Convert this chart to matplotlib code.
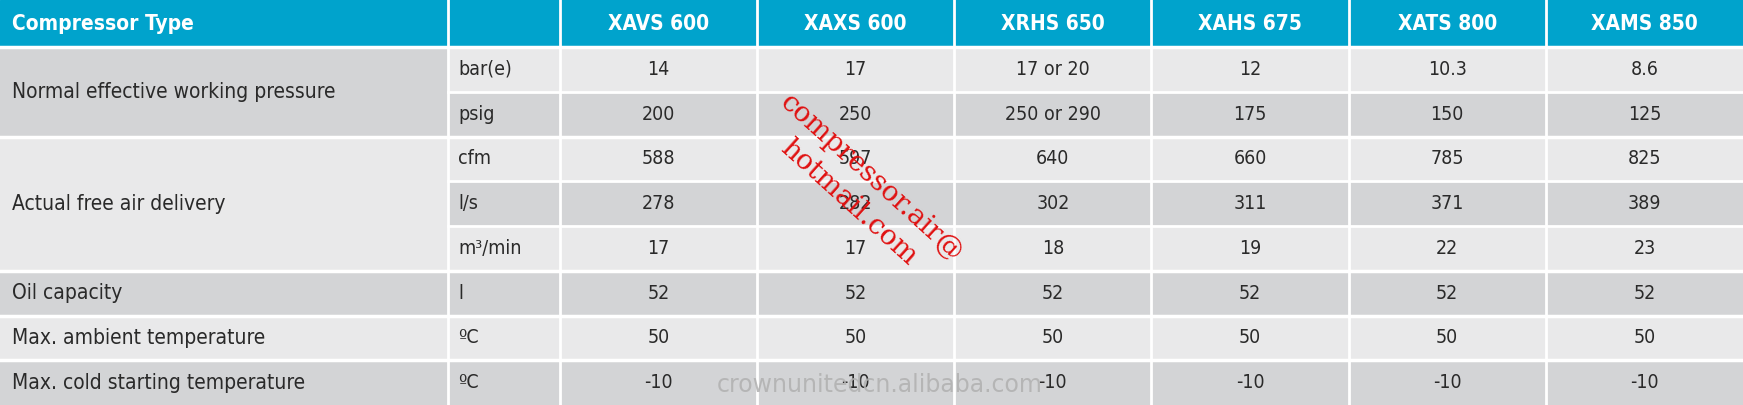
import matplotlib
matplotlib.use("Agg")
import matplotlib.pyplot as plt
from matplotlib.patches import Rectangle

models = ["XAVS 600", "XAXS 600", "XRHS 650", "XAHS 675", "XATS 800", "XAMS 850"]
groups = [("Normal effective working pressure", 2), ("Actual free air delivery", 3),
          ("Oil capacity", 1), ("Max. ambient temperature", 1), ("Max. cold starting temperature", 1)]
units = ["bar(e)", "psig", "cfm", "l/s", "m³/min", "l", "ºC", "ºC"]
row_bar = ["14", "17", "17 or 20", "12", "10.3", "8.6"]
row_psig = ["200", "250", "250 or 290", "175", "150", "125"]
row_cfm = ["588", "597", "640", "660", "785", "825"]
row_ls = ["278", "282", "302", "311", "371", "389"]
row_m3 = ["17", "17", "18", "19", "22", "23"]
row_oil = ["52", "52", "52", "52", "52", "52"]
row_amb = ["50", "50", "50", "50", "50", "50"]
row_cold = ["-10", "-10", "-10", "-10", "-10", "-10"]
rows = [row_bar, row_psig, row_cfm, row_ls, row_m3, row_oil, row_amb, row_cold]

W, H = 1743, 405
fig = plt.figure(figsize=(W/100, H/100), dpi=100)
ax = fig.add_axes([0, 0, 1, 1])
ax.set_xlim(0, W); ax.set_ylim(H, 0); ax.axis("off")

blue = "#00a3cc"; light = "#e9e9ea"; dark = "#d3d4d6"
fam = "DejaVu Sans"; st = "condensed"
x_lab, x_unit, x_data = 0, 448, 560
colw = (W - x_data) / 6
hh = 47
rh = (H - hh) / 8

# header
ax.add_patch(Rectangle((0, 0), W, hh, color=blue))
ax.text(12, hh/2, "Compressor Type", color="white", fontsize=15, fontweight="bold",
        family=fam, stretch=st, va="center")
for j, m in enumerate(models):
    ax.text(x_data + colw*(j+0.5), hh/2, m, color="white", fontsize=15, fontweight="bold",
            family=fam, stretch=st, va="center", ha="center")

# rows
for i, (u, vals) in enumerate(zip(units, rows)):
    y0 = hh + i*rh
    c = light if i % 2 == 0 else dark
    ax.add_patch(Rectangle((x_unit, y0), W - x_unit, rh, color=c))
    ax.text(x_unit + 10, y0 + rh/2, u, fontsize=14, color="#2a2a2a", family=fam, stretch=st, va="center")
    for j, v in enumerate(vals):
        ax.text(x_data + colw*(j+0.5), y0 + rh/2, v, fontsize=14, color="#2a2a2a",
                family=fam, stretch=st, va="center", ha="center")

# label groups
r = 0
for g, (name, n) in enumerate(groups):
    y0 = hh + r*rh
    c = dark if g % 2 == 0 else light
    ax.add_patch(Rectangle((0, y0), x_unit, n*rh, color=c))
    ax.text(12, y0 + n*rh/2, name, fontsize=15, color="#2a2a2a", family=fam, stretch=st, va="center")
    ax.plot([0, W], [y0, y0], color="white", lw=2.5)
    r += n

# grid lines
for i in range(8):
    y0 = hh + i*rh
    ax.plot([x_unit, W], [y0, y0], color="white", lw=2)
for x in [x_unit, x_data] + [x_data + colw*k for k in range(1, 6)]:
    ax.plot([x, x], [0, H], color="white", lw=2)

# watermarks
ax.text(860, 190, "compressor.air@\nhotmail.com", color="#e01010", fontsize=20, family="DejaVu Serif",
        rotation=-42, ha="center", va="center", linespacing=1.3)
ax.text(880, 385, "crownunitedcn.alibaba.com", color="#b0b0b0", fontsize=17, family=fam,
        ha="center", va="center", alpha=0.85)

fig.savefig("out.png", dpi=100)
